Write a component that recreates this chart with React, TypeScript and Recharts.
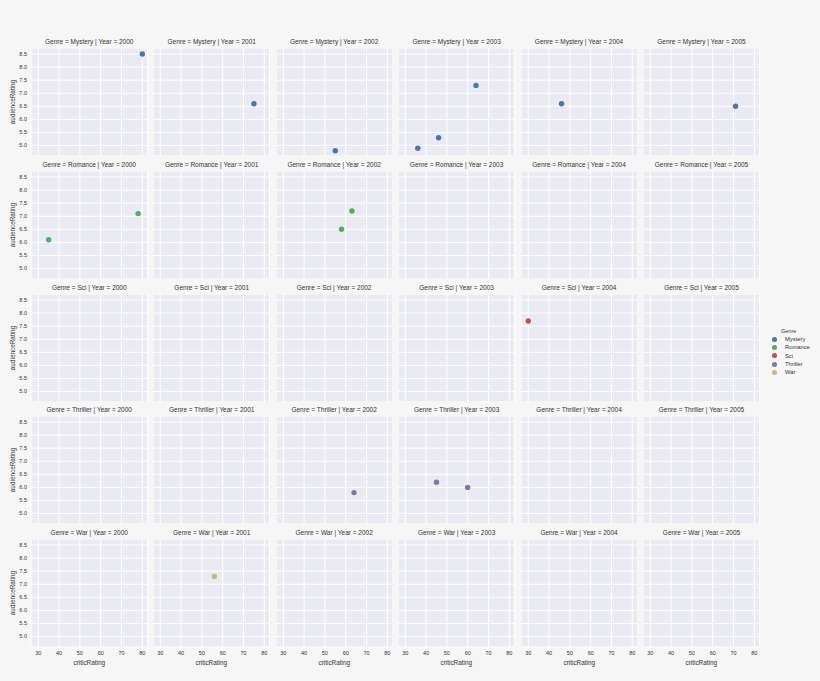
import React from "react";
import {
  ScatterChart,
  Scatter,
  XAxis,
  YAxis,
  CartesianGrid,
} from "recharts";

// facet rows and columns
const genres = ["Mystery", "Romance", "Sci", "Thriller", "War"];
const years = [2000, 2001, 2002, 2003, 2004, 2005];
const genreColors = ["#4c72b0", "#55a868", "#c44e52", "#8172b2", "#ccb974"];

// one entry per film
const pointGenre = [
  "Mystery", "Mystery", "Mystery", "Mystery", "Mystery", "Mystery", "Mystery", "Mystery",
  "Romance", "Romance", "Romance", "Romance",
  "Sci",
  "Thriller", "Thriller", "Thriller",
  "War",
];
const pointYear = [
  2000, 2001, 2002, 2003, 2003, 2003, 2004, 2005,
  2000, 2000, 2002, 2002,
  2004,
  2002, 2003, 2003,
  2001,
];
const criticRating = [80, 75, 55, 36, 46, 64, 46, 71, 35, 78, 58, 63, 30, 64, 45, 60, 56];
const audienceRating = [8.5, 6.6, 4.8, 4.9, 5.3, 7.3, 6.6, 6.5, 6.1, 7.1, 6.5, 7.2, 7.7, 5.8, 6.2, 6.0, 7.3];

const xTicks = [30, 40, 50, 60, 70, 80];
const yTicks = [5.0, 5.5, 6.0, 6.5, 7.0, 7.5, 8.0, 8.5];

const xDomain: [number, number] = [26.5, 82.5];
const yDomain: [number, number] = [4.6, 8.73];

const FONT = "'Liberation Sans', Arial, sans-serif";
const TEXT = "#333333";

const PANEL_W = 116.5;
const PANEL_H = 108;
const COL0 = 31;
const COL_STEP = 122.45;
const ROW0 = 48;
const ROW_STEP = 122.75;
const Y_AXIS_W = 31;
const X_AXIS_H = 22;

type Pt = { x: number; y: number };

function pointsFor(genre: string, year: number): Pt[] {
  const out: Pt[] = [];
  for (let i = 0; i < pointGenre.length; i++) {
    if (pointGenre[i] === genre && pointYear[i] === year) {
      out.push({ x: criticRating[i], y: audienceRating[i] });
    }
  }
  return out;
}

// inner facets keep their ticks (for the grid) but draw no labels
const NoTick = () => <g />;

const Dot = (props: any) => (
  <circle cx={props.cx} cy={props.cy} r={2.7} fill={props.fill} />
);

function Panel({ row, col }: { row: number; col: number }) {
  const genre = genres[row];
  const year = years[col];
  const firstCol = col === 0;
  const lastRow = row === genres.length - 1;
  const yw = firstCol ? Y_AXIS_W : 0;
  const xh = lastRow ? X_AXIS_H : 0;
  const left = COL0 + col * COL_STEP;
  const top = ROW0 + row * ROW_STEP;
  const tickStyle = { fontSize: 5.5, fill: TEXT, fontFamily: FONT };

  return (
    <>
      <div
        style={{
          position: "absolute",
          left,
          top: top - 11,
          width: PANEL_W,
          height: 10,
          lineHeight: "10px",
          textAlign: "center",
          fontSize: 6.5,
          fontFamily: FONT,
          color: TEXT,
          whiteSpace: "nowrap",
        }}
      >
        {`Genre = ${genre} | Year = ${year}`}
      </div>
      <div style={{ position: "absolute", left: left - yw, top }}>
        <ScatterChart
          width={PANEL_W + yw}
          height={PANEL_H + xh}
          margin={{ top: 0, right: 0, bottom: 0, left: 0 }}
        >
          <CartesianGrid fill="#eaeaf2" fillOpacity={1} stroke="#ffffff" strokeWidth={1} />
          <XAxis
            type="number"
            dataKey="x"
            domain={xDomain}
            ticks={xTicks}
            interval={0}
            allowDataOverflow
            axisLine={false}
            tickLine={false}
            tickSize={2}
            tickMargin={2}
            height={xh}
            tick={lastRow ? tickStyle : NoTick}
            label={
              lastRow
                ? {
                    value: "criticRating",
                    position: "insideBottom",
                    offset: 4,
                    style: { fontSize: 6.4, fill: TEXT, fontFamily: FONT },
                  }
                : undefined
            }
          />
          <YAxis
            type="number"
            dataKey="y"
            domain={yDomain}
            ticks={yTicks}
            interval={0}
            allowDataOverflow
            axisLine={false}
            tickLine={false}
            tickSize={2}
            tickMargin={2}
            width={yw}
            tick={firstCol ? tickStyle : NoTick}
            tickFormatter={(v: number) => v.toFixed(1)}
            label={
              firstCol
                ? {
                    value: "audienceRating",
                    angle: -90,
                    position: "insideLeft",
                    offset: 13,
                    style: { fontSize: 6.4, fill: TEXT, fontFamily: FONT, textAnchor: "middle" },
                  }
                : undefined
            }
          />
          <Scatter
            data={pointsFor(genre, year)}
            fill={genreColors[row]}
            shape={Dot}
            isAnimationActive={false}
          />
        </ScatterChart>
      </div>
    </>
  );
}

export default function App() {
  return (
    <div
      style={{
        position: "absolute",
        left: 0,
        top: 0,
        width: 820,
        height: 681,
        background: "#f6f6f6",
        overflow: "hidden",
      }}
    >
      {genres.map((g, r) =>
        years.map((y, c) => <Panel key={`${g}-${y}`} row={r} col={c} />)
      )}
      <div
        style={{
          position: "absolute",
          left: 772,
          top: 327,
          fontFamily: FONT,
          color: TEXT,
        }}
      >
        <div style={{ fontSize: 5.5, lineHeight: "8px", paddingLeft: 9 }}>Genre</div>
        {genres.map((g, i) => (
          <div
            key={g}
            style={{ display: "flex", alignItems: "center", height: 8.3, fontSize: 5.8 }}
          >
            <span
              style={{
                display: "inline-block",
                width: 5,
                height: 5,
                borderRadius: "50%",
                background: genreColors[i],
                marginRight: 8,
              }}
            />
            <span>{g}</span>
          </div>
        ))}
      </div>
    </div>
  );
}
